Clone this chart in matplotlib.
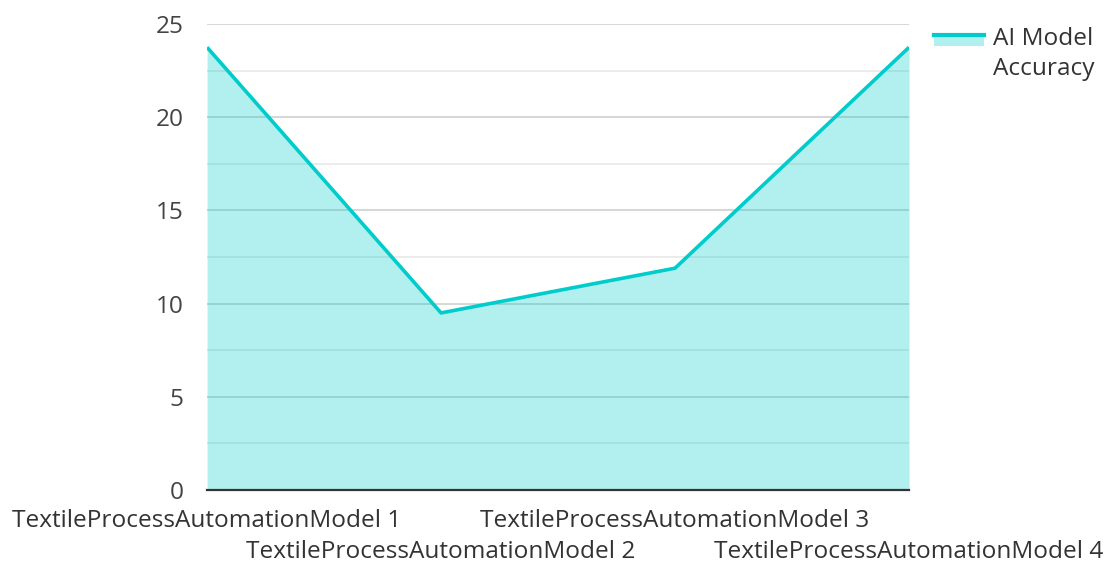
import matplotlib
matplotlib.use("Agg")
import matplotlib.pyplot as plt
from matplotlib.legend_handler import HandlerBase
from matplotlib.patches import Rectangle
from matplotlib.lines import Line2D
from matplotlib.ticker import MultipleLocator

plt.rcParams['font.family'] = ['Open Sans', 'DejaVu Sans']

models = ["TextileProcessAutomationModel 1", "TextileProcessAutomationModel 2",
          "TextileProcessAutomationModel 3", "TextileProcessAutomationModel 4"]
accuracy = [23.75, 9.5, 11.9, 23.75]
series_name = "AI Model\nAccuracy"

LINE = "#00cccc"
FS = 17.6


class AreaHandler(HandlerBase):
    # swatch: translucent block with the line on its top edge, next to the first text line
    def create_artists(self, legend, orig_handle, xdescent, ydescent, width, height, fontsize, trans):
        mid = height / 2 - ydescent
        top = mid + 14
        rect = Rectangle((-xdescent, top - 8), width, 8, facecolor=LINE, alpha=0.3,
                         edgecolor="none", transform=trans)
        line = Line2D([-xdescent, -xdescent + width], [top, top], color=LINE, lw=3, transform=trans)
        return [rect, line]


fig = plt.figure(figsize=(11.09, 5.62), dpi=100)
ax = fig.add_axes([0.1867, 0.1281, 0.8197 - 0.1867, 0.9573 - 0.1281])

x = list(range(len(models)))
ax.fill_between(x, accuracy, 0, color=LINE, alpha=0.3, lw=0, zorder=2)
ax.plot(x, accuracy, color=LINE, lw=2.6, zorder=3, solid_capstyle="butt")

ax.set_xlim(0, len(models) - 1)
ax.set_ylim(0, 25)
ax.yaxis.set_major_locator(MultipleLocator(5))
ax.yaxis.set_minor_locator(MultipleLocator(2.5))
ax.set_axisbelow(True)
ax.grid(axis="y", which="major", color="#cccccc", lw=1.1)
ax.grid(axis="y", which="minor", color="#e6e6e6", lw=1.1)
ax.tick_params(axis="y", which="both", length=0, pad=17, labelsize=FS, labelcolor="#444444")

ax.set_xticks(x)
ax.set_xticklabels(models)
ax.tick_params(axis="x", length=0, labelsize=FS, labelcolor="#333333")
for i, tick in enumerate(ax.xaxis.get_major_ticks()):
    tick.set_pad(14 if i % 2 == 0 else 36)

for side in ["top", "right", "left"]:
    ax.spines[side].set_visible(False)
ax.spines["bottom"].set_color("#333333")
ax.spines["bottom"].set_linewidth(1.6)
ax.spines["bottom"].set_zorder(4)

handle = Rectangle((0, 0), 1, 1)
leg = fig.legend([handle], [series_name], handler_map={Rectangle: AreaHandler()},
                 loc="upper left", bbox_to_anchor=(0.842, 0.952), frameon=False,
                 fontsize=FS, handlelength=2.05, handleheight=0.6, handletextpad=0.37,
                 borderaxespad=0, borderpad=0)
for t in leg.get_texts():
    t.set_color("#333333")
    t.set_linespacing(1.34)

fig.savefig("out.png", dpi=100)
